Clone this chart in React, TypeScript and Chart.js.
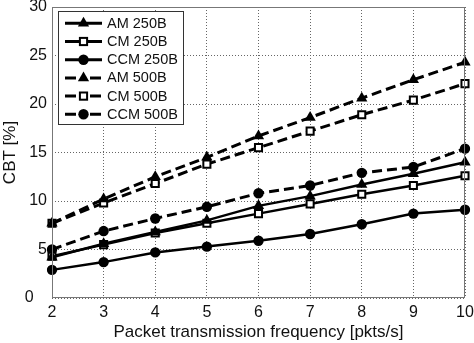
import React, { useEffect, useRef } from 'react';
import { Chart, registerables } from 'chart.js';
Chart.register(...registerables);

const categories = ['2', '3', '4', '5', '6', '7', '8', '9', '10'];
const seriesNames = ['AM 250B', 'CM 250B', 'CCM 250B', 'AM 500B', 'CM 500B', 'CCM 500B'];
const am250 = [4.2, 5.6, 6.8, 8.0, 9.5, 10.5, 11.7, 12.8, 14.0];
const cm250 = [4.3, 5.5, 6.7, 7.7, 8.7, 9.7, 10.7, 11.6, 12.6];
const ccm250 = [2.9, 3.7, 4.7, 5.3, 5.9, 6.6, 7.6, 8.7, 9.1];
const am500 = [7.7, 10.2, 12.5, 14.5, 16.7, 18.6, 20.6, 22.5, 24.3];
const cm500 = [7.7, 9.8, 11.8, 13.8, 15.5, 17.2, 18.9, 20.4, 22.1];
const ccm500 = [5.0, 6.9, 8.2, 9.4, 10.8, 11.6, 12.9, 13.5, 15.4];
const yTickValues = [0, 5, 10, 15, 20, 25, 30];

const FONT = '"Liberation Sans", Arial, Helvetica, sans-serif';

type Marker = 'triangle' | 'rect' | 'circle';
const markers: Marker[] = ['triangle', 'rect', 'circle', 'triangle', 'rect', 'circle'];
const dashedFlags = [false, false, false, true, true, true];
const seriesData = [am250, cm250, ccm250, am500, cm500, ccm500];

function drawMarker(ctx: CanvasRenderingContext2D, m: Marker, x: number, y: number) {
  ctx.save();
  ctx.setLineDash([]);
  if (m === 'triangle') {
    const r = 6.5;
    ctx.beginPath();
    ctx.moveTo(x, y - r);
    ctx.lineTo(x + 0.866 * r, y + r / 2);
    ctx.lineTo(x - 0.866 * r, y + r / 2);
    ctx.closePath();
    ctx.fillStyle = '#000';
    ctx.fill();
  } else if (m === 'circle') {
    ctx.beginPath();
    ctx.arc(x, y, 5.2, 0, Math.PI * 2);
    ctx.fillStyle = '#000';
    ctx.fill();
  } else {
    const s = 3.6;
    ctx.fillStyle = '#fff';
    ctx.strokeStyle = '#000';
    ctx.lineWidth = 2;
    ctx.fillRect(x - s, y - s, 2 * s, 2 * s);
    ctx.strokeRect(x - s, y - s, 2 * s, 2 * s);
  }
  ctx.restore();
}

const framePlugin = {
  id: 'frameLegend',
  afterDraw(chart: any) {
    const { ctx, chartArea: a } = chart;
    ctx.save();
    ctx.setLineDash([]);
    ctx.strokeStyle = '#777';
    ctx.lineWidth = 1;
    ctx.strokeRect(a.left + 0.5, a.top + 0.5, a.right - a.left - 1, a.bottom - a.top - 1);

    // legend box
    const bx = 58.5, by = 11.5, bw = 125, bh = 113;
    ctx.fillStyle = '#fff';
    ctx.fillRect(bx, by, bw, bh);
    ctx.strokeStyle = '#333';
    ctx.strokeRect(bx, by, bw, bh);
    ctx.font = `14.5px ${FONT}`;
    ctx.textBaseline = 'middle';
    ctx.textAlign = 'left';
    for (let i = 0; i < seriesNames.length; i++) {
      const y = 23.3 + i * 18.2;
      ctx.strokeStyle = '#000';
      ctx.lineWidth = 3;
      ctx.beginPath();
      if (dashedFlags[i]) {
        ctx.moveTo(65, y); ctx.lineTo(76, y);
        ctx.moveTo(90, y); ctx.lineTo(101, y);
      } else {
        ctx.moveTo(65, y); ctx.lineTo(102, y);
      }
      ctx.stroke();
      drawMarker(ctx, markers[i], 83.5, y);
      ctx.fillStyle = '#111';
      ctx.fillText(seriesNames[i], 107, y + 0.5);
    }
    ctx.restore();
  },
};

export default function App() {
  const ref = useRef<HTMLCanvasElement | null>(null);
  useEffect(() => {
    document.body.style.margin = '0';
    if (!ref.current) return;
    const datasets = seriesNames.map((name, i) => ({
      label: name,
      data: seriesData[i],
      borderColor: '#000',
      borderWidth: dashedFlags[i] ? 3 : 2.5,
      borderDash: dashedFlags[i] ? [10, 5] : [],
      pointStyle: markers[i],
      pointRadius: markers[i] === 'triangle' ? 6.5 : markers[i] === 'circle' ? 5.2 : 5,
      pointBackgroundColor: markers[i] === 'rect' ? '#fff' : '#000',
      pointBorderColor: '#000',
      pointBorderWidth: markers[i] === 'rect' ? 2 : 0,
      fill: false,
      tension: 0,
    }));
    const chart = new Chart(ref.current, {
      type: 'line',
      data: { labels: categories, datasets },
      options: {
        animation: false,
        responsive: false,
        devicePixelRatio: 1,
        layout: { padding: { top: 5, right: 9, bottom: 0, left: 0 } },
        plugins: { legend: { display: false }, tooltip: { enabled: false } },
        scales: {
          x: {
            type: 'category',
            offset: false,
            grid: { color: '#666', lineWidth: 1, drawTicks: false },
            border: { display: false, dash: [1, 2] },
            ticks: { font: { size: 16, family: FONT }, color: '#111', padding: 5, maxRotation: 0 },
            title: { display: true, text: 'Packet transmission frequency [pkts/s]', font: { size: 17, family: FONT }, color: '#111', padding: 0 },
            afterFit: (s: any) => { s.height = 45; s.paddingLeft = 0; s.paddingRight = 0; },
          },
          y: {
            min: 0,
            max: 30,
            afterBuildTicks: (s: any) => { s.ticks = yTickValues.map((v) => ({ value: v })); },
            grid: { color: '#666', lineWidth: 1, drawTicks: false },
            border: { display: false, dash: [1, 2] },
            ticks: {
              font: { size: 16, family: FONT },
              color: '#111',
              padding: 5,
              callback: (v: any) => (Number(v) === 0 ? '0   ' : String(v)),
            },
            title: { display: true, text: 'CBT [%]', font: { size: 17, family: FONT }, color: '#111', padding: 0 },
            afterFit: (s: any) => { s.width = 52; s.paddingTop = 0; s.paddingBottom = 0; },
          },
        },
      },
      plugins: [framePlugin],
    });
    return () => chart.destroy();
  }, []);
  return (
    <div style={{ width: 474, height: 343 }}>
      <canvas ref={ref} width={474} height={343} />
    </div>
  );
}
